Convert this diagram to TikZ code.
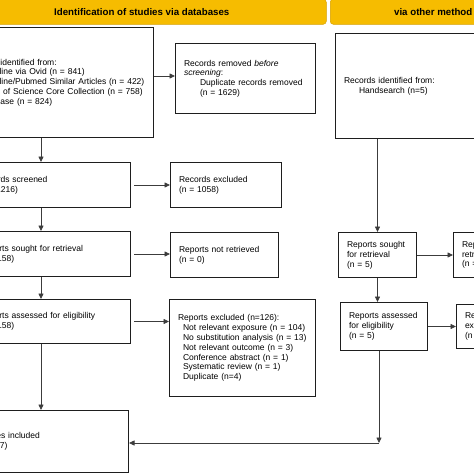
\documentclass[tikz,border=0pt]{standalone}
\usepackage{fontspec}
\setmainfont{Liberation Sans}
\usetikzlibrary{arrows.meta}
\definecolor{gold}{RGB}{246,188,0}
\definecolor{goldedge}{RGB}{214,160,0}
\definecolor{boxline}{RGB}{30,30,30}
\definecolor{conn}{RGB}{60,60,60}
\begin{document}
\begin{tikzpicture}[x=1pt,y=-1pt,
  box/.style={draw=boxline, line width=1pt, fill=white, inner xsep=8.5pt, inner ysep=2pt,
    align=left, anchor=north west, font=\fontsize{8.5}{9.8}\selectfont},
  banner/.style={draw=goldedge, line width=0.5pt, fill=gold, rounded corners=3pt,
    anchor=north west, inner sep=0pt, font=\fontsize{9.7}{11}\selectfont\bfseries},
  headtext/.style={inner sep=0pt, font=\fontsize{9.7}{11}\selectfont\bfseries},
  arr/.style={draw=conn, line width=0.8pt, -{Triangle[length=5.5pt,width=5pt]}},
  ln/.style={draw=conn, line width=0.8pt}]
\useasboundingbox (0,0) rectangle (474,474);
\fill[white] (0,0) rectangle (474,474);
\clip (0,0) rectangle (474,474);

% banners
\node[banner, minimum width=369pt, minimum height=25pt] (ban1) at (-43,-1)
  {Identification of studies via databases};
\node[banner, minimum width=200pt, minimum height=25pt] (ban2) at (330,-1) {};
\node[headtext, anchor=east] (ban2t) at (472.5,12) {via other method};

% left column
\node[box, text width=179pt, minimum height=110pt] (id1) at (-43,27)
  {Records identified from:\\
   \hspace*{17pt}Medline via Ovid (n = 841)\\
   \hspace*{17pt}Medline/Pubmed Similar Articles (n = 422)\\
   \hspace*{17pt}Web of Science Core Collection (n = 758)\\
   \hspace*{17pt}Embase (n = 824)};
\node[box, text width=123pt, minimum height=70pt] (rem) at (175,43)
  {Records removed \textit{before}\\
   \textit{screening}:\\
   \hspace*{16pt}Duplicate records removed\\
   \hspace*{16pt}(n = 1629)};
\node[box, text width=144pt, minimum height=45pt] (scr) at (-31,162)
  {Records screened\\(n = 1216)};
\node[box, text width=94pt, minimum height=45pt] (exc) at (170,162)
  {Records excluded\\(n = 1058)};
\node[box, text width=143pt, minimum height=45pt] (sought) at (-30,231)
  {Reports sought for retrieval\\(n = 158)};
\node[box, text width=91pt, minimum height=45pt] (notret) at (170,232)
  {Reports not retrieved\\(n = 0)};
\node[box, text width=143pt, minimum height=44pt] (assess) at (-30,299)
  {Reports assessed for eligibility\\(n = 158)};
\node[box, text width=129pt, minimum height=97pt] (rexc) at (169,299)
  {Reports excluded (n=126):\\
   \hspace*{5pt}Not relevant exposure (n = 104)\\
   \hspace*{5pt}No substitution analysis (n = 13)\\
   \hspace*{5pt}Not relevant outcome (n = 3)\\
   \hspace*{5pt}Conference abstract (n = 1)\\
   \hspace*{5pt}Systematic review (n = 1)\\
   \hspace*{5pt}Duplicate (n=4)};
\node[box, text width=143pt, minimum height=62pt] (incl) at (-32,410)
  {Studies included\\(n = 37)};

% right column
\node[box, text width=168pt, minimum height=105pt] (hs) at (335,33)
  {Records identified from:\\
   \hspace*{15pt}Handsearch (n=5)};
\node[box, text width=61pt, minimum height=45pt] (hss) at (338,232)
  {Reports sought\\for retrieval\\(n = 5)};
\node[box, text width=70pt, minimum height=45pt] (hsnr) at (453,232)
  {Reports not\\retrieved\\(n = 0)};
\node[box, text width=70pt, minimum height=48pt] (hsa) at (340,302)
  {Reports assessed\\for eligibility\\(n = 5)};
\node[box, text width=67pt, minimum height=44pt] (hsex) at (456,304)
  {Reports\\excluded\\(n = 0)};

% helper coordinates
\coordinate (colL) at (41,0);
\coordinate (row1) at (0,76);
\coordinate (join) at (379,443);

% connectors left
\draw[arr] (id1.south -| colL) -- (scr.north -| colL);
\draw[arr] (scr.south -| colL) -- (sought.north -| colL);
\draw[arr] (sought.south -| colL) -- (assess.north -| colL);
\draw[arr] (assess.south -| colL) -- (incl.north -| colL);
\draw[arr] (id1.east |- row1) -- (rem.west |- row1);
\draw[arr, shorten <=3pt] (scr.east) -- (exc.west |- scr.east);
\draw[arr, shorten <=3pt] (sought.east) -- (notret.west |- sought.east);
\draw[arr, shorten <=3pt] (assess.east) -- (rexc.west |- assess.east);

% connectors right
\draw[arr] (hs.south -| hss.north) -- (hss.north);
\draw[arr] (hss.south) -- (hsa.north -| hss.south);
\draw[arr] (hss.east) -- (hsnr.west |- hss.east);
\draw[arr] (hsa.east) -- (hsex.west |- hsa.east);
\draw[arr] (hsa.south -| join) -- (join);
\draw[arr] (join) -- (incl.east |- join);
\end{tikzpicture}
\end{document}
